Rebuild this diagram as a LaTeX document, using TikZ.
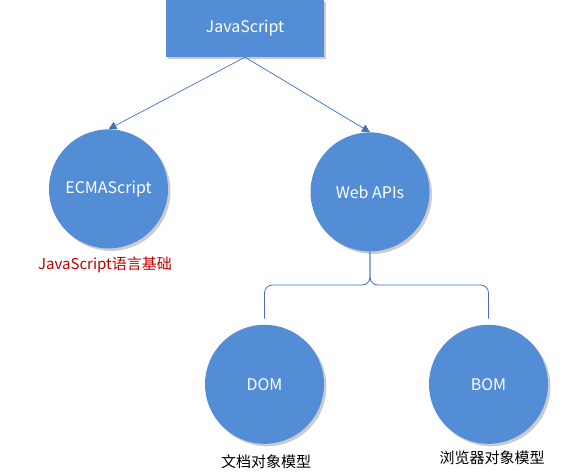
\documentclass[tikz,border=0pt]{standalone}
\usepackage{fontspec}
\setmainfont{Noto Sans CJK SC}
\usetikzlibrary{arrows.meta,shapes,positioning,shadows}
\definecolor{jsblue}{RGB}{83,141,213}
\definecolor{jsline}{RGB}{68,114,186}
\definecolor{jsred}{RGB}{192,0,0}

\begin{document}
\begin{tikzpicture}[
    x=1pt, y=-1pt,
    node distance=1.2cm,
    box/.style={rectangle, fill=jsblue, minimum width=158pt, minimum height=57pt, text=white, font=\fontsize{16}{19}\selectfont, drop shadow={shadow xshift=2pt, shadow yshift=-2pt, fill=black!40, opacity=.5}},
    ball/.style={circle, fill=jsblue, minimum size=119pt, inner sep=0pt, text=white, font=\fontsize{16}{19}\selectfont, drop shadow={shadow xshift=2.5pt, shadow yshift=-2.5pt, fill=black!40, opacity=.5}},
    note/.style={inner sep=0pt, font=\fontsize{15}{18}\selectfont},
    arr/.style={draw=jsline, line width=0.7pt, -{Triangle[length=8pt, width=8pt]}},
    brace/.style={draw=jsline, line width=0.8pt, rounded corners=8pt}
]
    \useasboundingbox (0,0) rectangle (578,472);

    \node[box] (js) at (245,28.5) {JavaScript};
    \node[ball, below=72pt of js, xshift=-136.5pt] (ecma) {ECMAScript};
    \node[ball, below=75pt of js, xshift=125pt] (webapi) {Web APIs};
    \node[ball, below=73pt of webapi, xshift=-105.5pt] (dom) {DOM};
    \node[ball, below=73pt of webapi, xshift=118.5pt] (bom) {BOM};

    \node[note, text=jsred, below=8pt of ecma, xshift=-3.5pt] (ecmanote) {JavaScript语言基础};
    \node[note, below=11pt of dom, xshift=1.5pt] (domnote) {文档对象模型};
    \node[note, below=7pt of bom, xshift=3.5pt] (bomnote) {浏览器对象模型};

    \draw[arr] (js.south) -- (ecma.north);
    \draw[arr] (js.south) -- (webapi.north);

    \coordinate (fork) at (webapi.south |- 0,285);
    \coordinate[above=6pt of dom] (domtop);
    \coordinate[above=6pt of bom] (bomtop);
    \draw[brace] (domtop) |- (fork) -- (webapi.south);
    \draw[brace] (bomtop) |- (fork) -- (webapi.south);
\end{tikzpicture}
\end{document}
